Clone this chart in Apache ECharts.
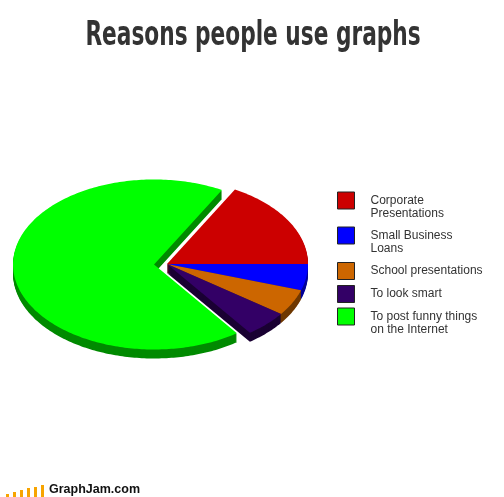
<!DOCTYPE html>
<html>
<head>
<meta charset="utf-8">
<script src="https://cdn.jsdelivr.net/npm/echarts@6/dist/echarts.min.js"></script>
<style>
  html, body { margin: 0; padding: 0; background: #fff; }
  #main { width: 504px; height: 497px; }
</style>
</head>
<body>
<div id="main"></div>
<script>
// data
var categories = ['Corporate\nPresentations', 'Small Business\nLoans', 'School presentations', 'To look smart', 'To post funny things\non the Internet'];
var values = [17, 5, 5, 5, 68];
var colors = ['#cc0000', '#0000ff', '#cc6600', '#330066', '#00ff00'];
var sideColors = ['#7a0000', '#000099', '#6e3700', '#1a0033', '#008a00'];

// layout of the tilted pie
var pieCx = 167, pieCy = 264, pieRx = 141, pieRy = 85, pieDepth = 9;
var startDeg = -61.2;          // screen angle (clockwise from 3 o'clock)
var explodeIndex = 4, explodeDist = 13;
var legendIconTops = [192, 227, 262, 285, 308];

var total = values.reduce(function (a, b) { return a + b; }, 0);

function slicePoints(idx, dx, dy) {
    var before = 0;
    for (var i = 0; i < idx; i++) before += values[i];
    var a0 = startDeg + before / total * 360;
    var a1 = a0 + values[idx] / total * 360;
    var ox = 0, oy = 0;
    if (idx === explodeIndex) {
        var mid = (a0 + a1) / 2 * Math.PI / 180;
        ox = explodeDist * Math.cos(mid);
        oy = explodeDist * Math.sin(mid) * pieRy / pieRx;
    }
    var cx = pieCx + ox + dx, cy = pieCy + oy + dy;
    var pts = [[cx, cy]];
    var steps = Math.max(4, Math.ceil(a1 - a0));
    for (var s = 0; s <= steps; s++) {
        var t = (a0 + (a1 - a0) * s / steps) * Math.PI / 180;
        pts.push([cx + pieRx * Math.cos(t), cy + pieRy * Math.sin(t)]);
    }
    return pts;
}

var chart = echarts.init(document.getElementById('main'));

var series = categories.map(function (name, i) {
    return {
        name: name,
        type: 'custom',
        coordinateSystem: 'none',
        data: [[values[i]]],
        itemStyle: { color: colors[i] },
        renderItem: function (params, api) {
            var idx = params.seriesIndex;
            var children = [];
            for (var d = pieDepth; d >= 1; d--) {
                children.push({
                    type: 'polygon',
                    z2: 0,
                    shape: { points: slicePoints(idx, 0, d) },
                    style: { fill: sideColors[idx] },
                    silent: true
                });
            }
            children.push({
                type: 'polygon',
                z2: 10,
                shape: { points: slicePoints(idx, 0, 0) },
                style: { fill: api.visual('color') }
            });
            return { type: 'group', children: children };
        }
    };
});

var legends = categories.map(function (name, i) {
    var twoLine = name.indexOf('\n') >= 0;
    return {
        data: [name],
        orient: 'vertical',
        left: 337,
        top: twoLine ? legendIconTops[i] - 11 : legendIconTops[i],
        padding: 0,
        itemWidth: 17,
        itemHeight: 17,
        icon: 'rect',
        selectedMode: false,
        // first line sits level with the box, second one hangs below it
        formatter: function (n) { return twoLine ? '\n' + n : n; },
        itemStyle: { borderColor: '#222', borderWidth: 1 },
        textStyle: {
            fontFamily: 'Liberation Sans',
            fontSize: 12,
            color: '#333',
            lineHeight: 13,
            padding: [0, 0, 0, 11]
        }
    };
});

// logo bars
var logoBars = [];
var barTops = [494, 492, 490, 488, 487, 485];
barTops.forEach(function (t, i) {
    logoBars.push({
        type: 'rect',
        shape: { x: 6 + i * 7, y: t, width: 3, height: 497 - t },
        style: { fill: '#f7a400' }
    });
});

var option = {
    color: colors,
    animation: false,
    legend: legends,
    series: series,
    graphic: logoBars.concat([{
        // title, squeezed sideways to get the tall narrow poster look
        type: 'text',
        x: 253,
        y: 36,
        scaleX: 0.73,
        style: {
            text: 'Reasons people use graphs',
            align: 'center',
            verticalAlign: 'middle',
            fontFamily: '"DejaVu Sans Condensed", "Liberation Sans", sans-serif',
            fontWeight: 'bold',
            fontSize: 33,
            fill: '#333'
        }
    }, {
        type: 'text',
        left: 49,
        top: 483,
        style: {
            text: 'GraphJam.com',
            fontFamily: 'Liberation Sans',
            fontWeight: 'bold',
            fontSize: 12.5,
            fill: '#111'
        }
    }])
};

chart.setOption(option);
</script>
</body>
</html>
